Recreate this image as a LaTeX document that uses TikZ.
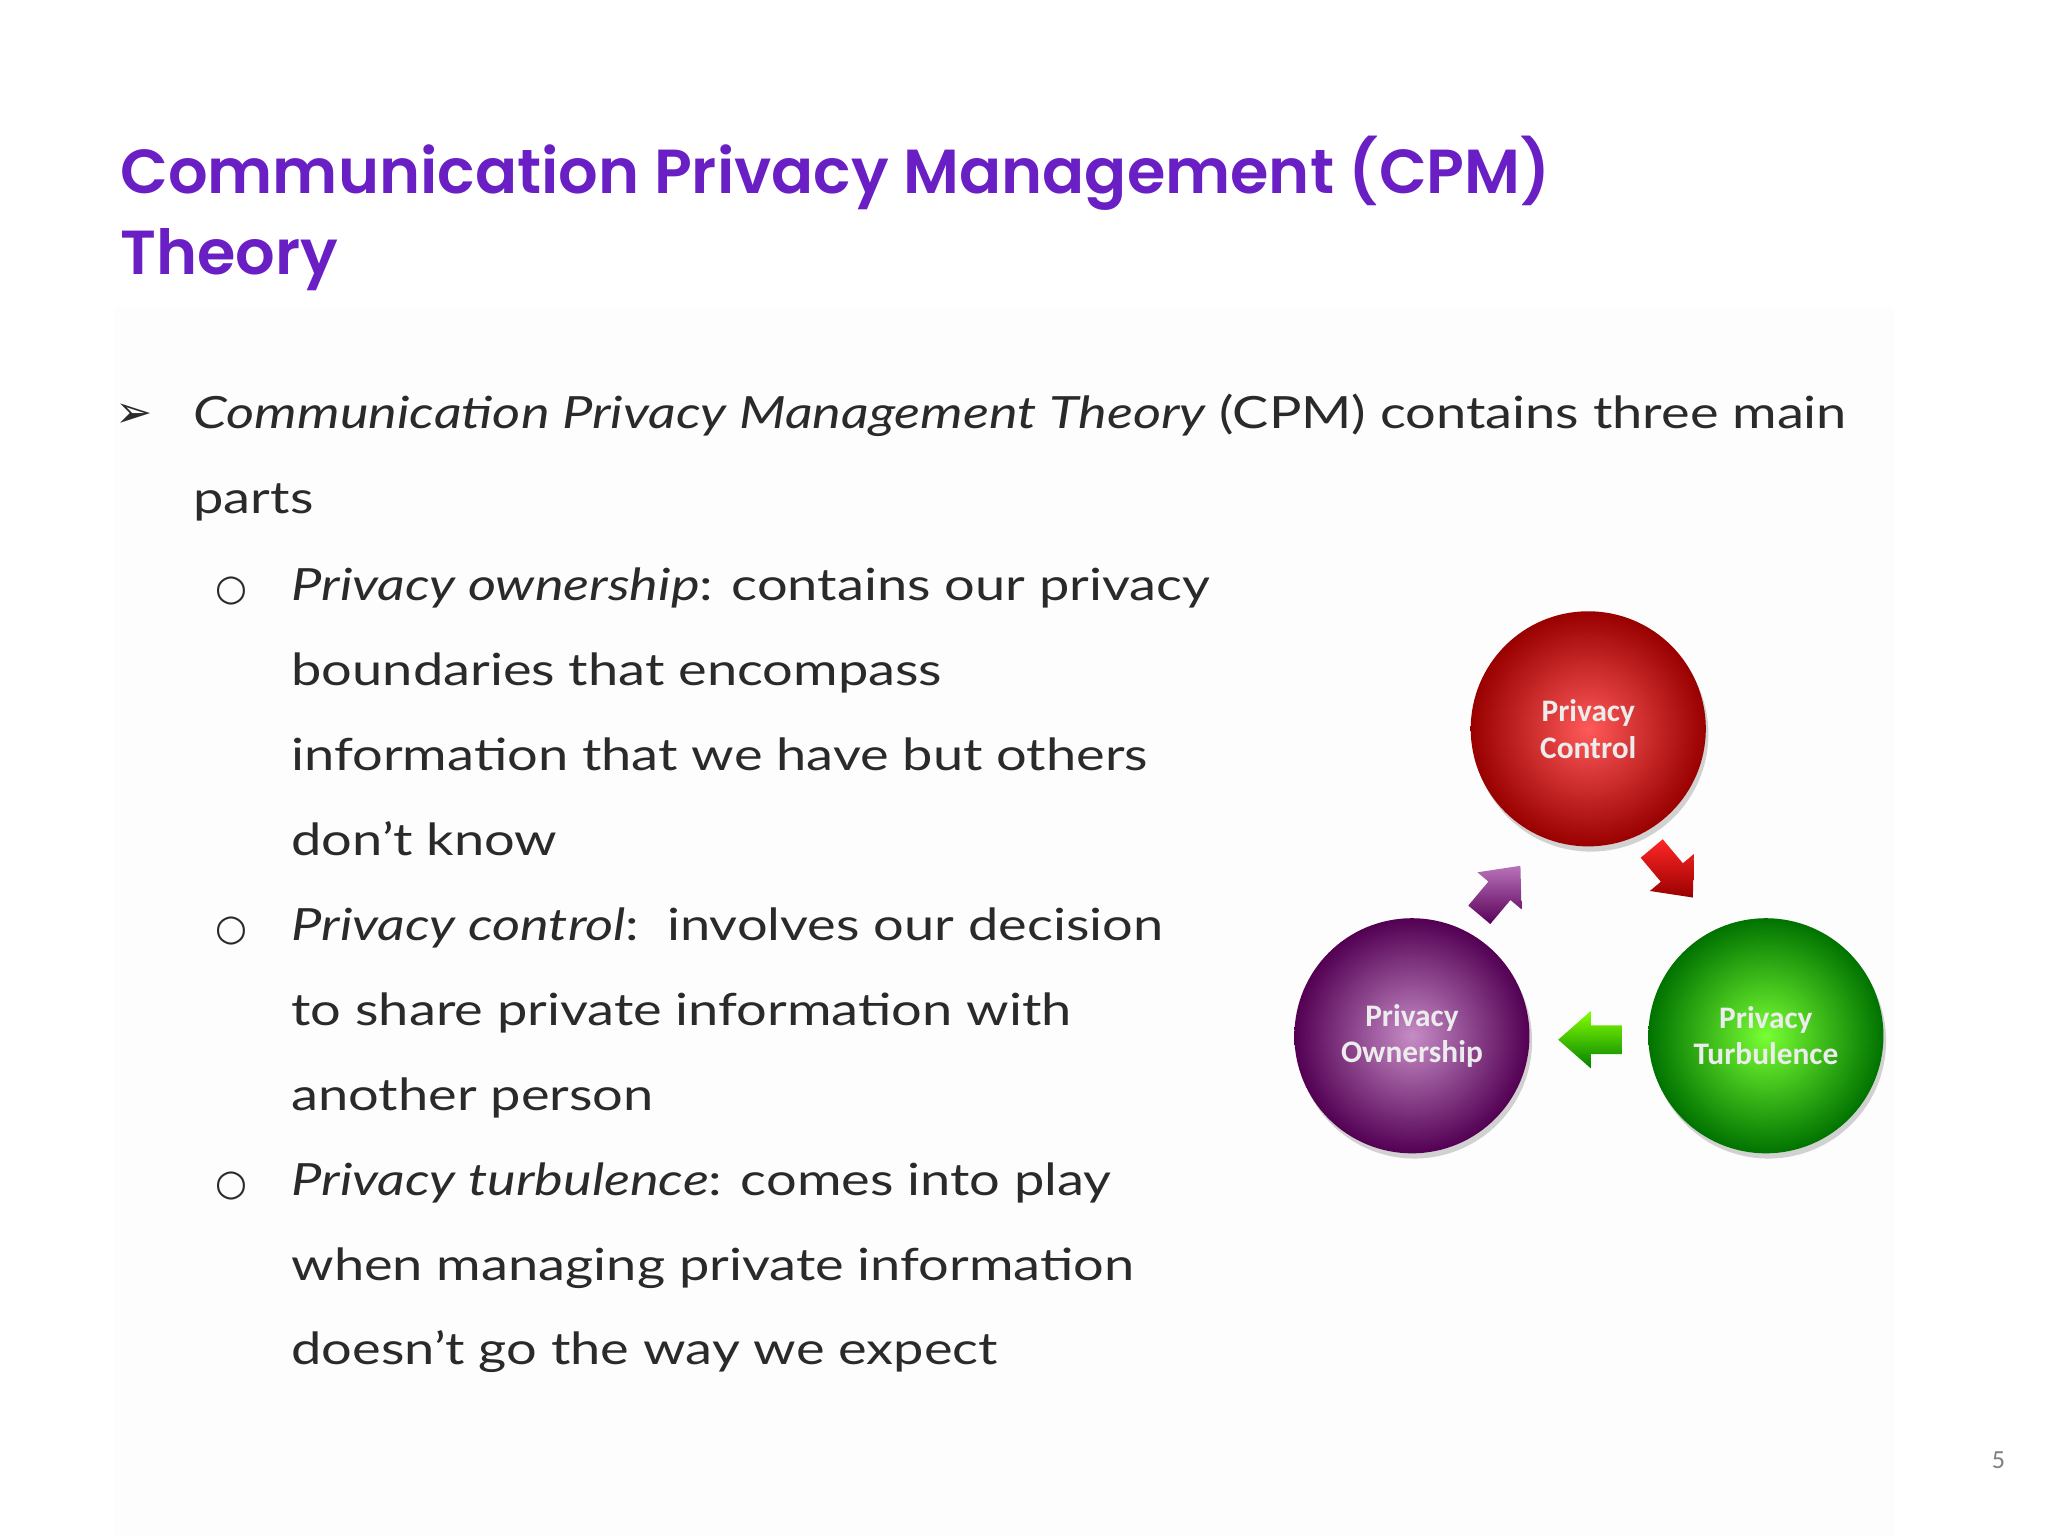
\documentclass[tikz,border=0pt]{standalone}
\usepackage{fontspec}
\setmainfont{Lato}[FakeStretch=1.22]
\newfontfamily\titlefont{Poppins SemiBold}
\newfontfamily\symfont{DejaVu Sans}
\newfontfamily\cfont{Carlito}
\usetikzlibrary{shadows}
\definecolor{ttl}{HTML}{6A1FC4}
\definecolor{txt}{HTML}{2A2A2A}
\begin{document}
\begin{tikzpicture}[x=1pt,y=-1pt,
  title/.style={anchor=base west,font=\titlefont\fontsize{47.6}{48}\selectfont,text=ttl,inner sep=0},
  body/.style={anchor=base west,font=\fontsize{34}{34}\selectfont,text=txt,inner sep=0},
  bul/.style={anchor=base west,font=\symfont\fontsize{28}{28}\selectfont,text=txt,inner sep=0},
  ball/.style={circle,minimum size=180pt,inner sep=0,drop shadow={opacity=0.35,shadow xshift=2pt,shadow yshift=-4pt},
     align=center,font=\cfont\bfseries\fontsize{24}{28}\selectfont,text=white!85!gray}]
\useasboundingbox (0,0) rectangle (1568,1176);
\fill[white] (0,0) rectangle (1568,1176);
\fill[gray!1.5] (88,235) rectangle (1450,1176);
\node[title] (t1) at (92,148) {Communication Privacy Management (CPM)};
\node[title] (t2) at (92,210) {Theory};
\node[bul,font=\symfont\fontsize{34}{34}\selectfont] (b0) at (88,327) {➢};
\node[body] (l1) at (148,328) {\itshape Communication Privacy Management Theory\upshape{} (CPM) contains three main};
\node[body] (l2) at (148,393) {parts};
\foreach \y/\n in {460/s1,720/s2,915/s3}{\node[bul] (\n) at (165,\y) {○};}
\node[body] (a1) at (223,460) {\itshape Privacy ownership\upshape: contains our privacy};
\node[body] (a2) at (223,525) {boundaries that encompass};
\node[body] (a3) at (223,590) {information that we have but others};
\node[body] (a4) at (223,655) {don’t know};
\node[body] (c1) at (223,720) {\itshape Privacy control\upshape:\ \ involves our decision};
\node[body] (c2) at (223,785) {to share private information with};
\node[body] (c3) at (223,850) {another person};
\node[body] (d1) at (223,915) {\itshape Privacy turbulence\upshape: comes into play};
\node[body] (d2) at (223,980) {when managing private information};
\node[body] (d3) at (223,1045) {doesn’t go the way we expect};
\node[anchor=base,font=\cfont\fontsize{20}{20}\selectfont,text=gray] (pg) at (1530,1124) {5};
\node[ball,inner color=red!65!white,outer color=red!60!black] (ctl) at (1216,558) {Privacy\\Control};
\node[ball,inner color=violet!45!white,outer color=violet!65!black] (own) at (1081,793) {Privacy\\Ownership};
\node[ball,inner color=green!55!lime!80!white,outer color=green!45!black] (tur) at (1352,793) {Privacy\\Turbulence};
\def\arrowshape{(-24,-11) -- (0,-11) -- (0,-22) -- (25,0) -- (0,22) -- (0,11) -- (-24,11) -- cycle}
\begin{scope}[shift={(1280,668)},rotate=-50]
\shade[top color=red!85!white,bottom color=red!60!black] \arrowshape;
\end{scope}
\begin{scope}[shift={(1218,796)},rotate=180]
\shade[top color=lime!70!green,bottom color=green!50!black] \arrowshape;
\end{scope}
\begin{scope}[shift={(1148,682)},rotate=50]
\shade[top color=violet!55!white,bottom color=violet!70!black] \arrowshape;
\end{scope}
\end{tikzpicture}
\end{document}
